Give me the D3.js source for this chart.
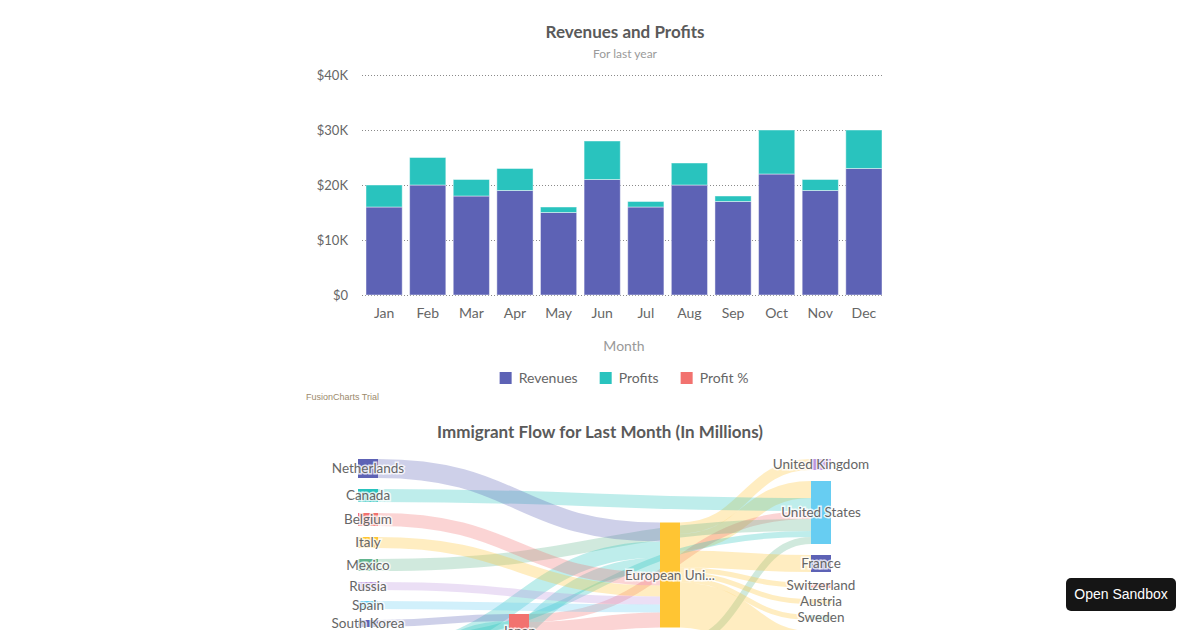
<!DOCTYPE html>
<html>
<head>
<meta charset="utf-8">
<script src="https://cdn.jsdelivr.net/npm/d3@7"></script>
<style>
  body { margin: 0; background: #fff; overflow: hidden; font-family: Lato, "Source Sans Pro", sans-serif; }
  #sandbox {
    position: absolute; left: 1066px; top: 578px; width: 110px; height: 33px;
    background: #151515; color: #fff; border-radius: 5px;
    font: 14px "Liberation Sans", Arial, sans-serif; line-height: 33px; text-align: center;
  }
</style>
</head>
<body>
<svg id="chart" width="1200" height="630"></svg>
<div id="sandbox">Open Sandbox</div>
<script>
// ---- column chart data
const months = ["Jan", "Feb", "Mar", "Apr", "May", "Jun", "Jul", "Aug", "Sep", "Oct", "Nov", "Dec"];
const revenues = [16000, 20000, 18000, 19000, 15000, 21000, 16000, 20000, 17000, 22000, 19000, 23000];
const profits = [4000, 5000, 3000, 4000, 1000, 7000, 1000, 4000, 1000, 8000, 2000, 7000];
const yTicks = [0, 10000, 20000, 30000, 40000];
const seriesNames = ["Revenues", "Profits", "Profit %"];

// ---- sankey data (millions)
const flowNodes = ["Netherlands", "Canada", "Belgium", "Italy", "Mexico", "Russia", "Spain",
  "South Korea", "China", "Japan", "European Union", "Asia", "United Kingdom", "United States",
  "France", "India", "Switzerland", "Austria", "Sweden", "Germany", "Australia"];
const flowLinks = [
  ["European Union", "United Kingdom", 2.2],
  ["European Union", "United States", 3.4],
  ["Canada", "United States", 2.6],
  ["Japan", "United States", 1.6],
  ["Mexico", "United States", 2.4],
  ["China", "United States", 1.2],
  ["Asia", "United States", 1.4],
  ["Netherlands", "European Union", 3.8],
  ["China", "European Union", 3.2],
  ["India", "European Union", 3.0],
  ["Belgium", "European Union", 2.6],
  ["Italy", "European Union", 2.2],
  ["Russia", "European Union", 1.6],
  ["Spain", "European Union", 1.6],
  ["Japan", "European Union", 3.0],
  ["South Korea", "Japan", 1.4],
  ["China", "Japan", 5.4],
  ["Japan", "Asia", 2.2],
  ["India", "Asia", 18.0],
  ["European Union", "France", 3.4],
  ["European Union", "Switzerland", 1.0],
  ["European Union", "Austria", 1.0],
  ["European Union", "Sweden", 1.0],
  ["European Union", "Germany", 9.0],
  ["Asia", "Australia", 18.8]
];

const palette = ["#5D62B5", "#29C3BE", "#F2726F", "#FFC533", "#62B58F", "#BC95DF", "#67CDF2"];
const font = "Lato, 'Source Sans Pro', sans-serif";
const svg = d3.select("#chart").attr("font-family", font);

// ===== Revenues and Profits =====
svg.append("text").attr("x", 625).attr("y", 38).attr("text-anchor", "middle")
  .attr("font-size", 17).attr("font-weight", 700).attr("fill", "#5a5a5a")
  .text("Revenues and Profits");
svg.append("text").attr("x", 625).attr("y", 58).attr("text-anchor", "middle")
  .attr("font-size", 12).attr("fill", "#9a9a9a").text("For last year");

const x = d3.scaleBand().domain(months).range([366, 882]).paddingInner(0.17).paddingOuter(0);
const y = d3.scaleLinear().domain([0, 40000]).range([295, 75]);

const yAxis = svg.append("g").attr("transform", "translate(362,0)")
  .call(d3.axisLeft(y).tickValues(yTicks).tickSize(-522).tickPadding(14)
    .tickFormat(d => d === 0 ? "$0" : "$" + d / 1000 + "K"));
yAxis.attr("font-family", font);
yAxis.select(".domain").remove();
yAxis.selectAll("line").attr("stroke", "#8a8a8a").attr("stroke-dasharray", "1,2");
yAxis.selectAll("text").attr("font-size", 13).attr("fill", "#666");

const xAxis = svg.append("g").attr("transform", "translate(0,295)")
  .call(d3.axisBottom(x).tickSize(0).tickPadding(13));
xAxis.attr("font-family", font);
xAxis.select(".domain").remove();
xAxis.selectAll("text").attr("font-size", 14).attr("fill", "#666");

const table = months.map((m, i) => ({ month: m, Revenues: revenues[i], Profits: profits[i] }));
const stacked = d3.stack().keys(["Revenues", "Profits"])(table);

svg.append("g").selectAll("g").data(stacked).join("g")
  .attr("fill", (d, i) => palette[i])
  .selectAll("rect").data(d => d).join("rect")
  .attr("x", d => x(d.data.month))
  .attr("y", d => y(d[1]))
  .attr("width", x.bandwidth())
  .attr("height", d => y(d[0]) - y(d[1]))
  .attr("stroke", "#ffffff").attr("stroke-opacity", 0.45).attr("stroke-width", 1);

svg.append("text").attr("x", 624).attr("y", 351).attr("text-anchor", "middle")
  .attr("font-size", 14).attr("fill", "#999").text("Month");

// legend
const legend = svg.append("g").attr("transform", "translate(0,378)");
let lx = 0;
const items = legend.selectAll("g").data(seriesNames).join("g");
items.append("rect").attr("width", 12).attr("height", 12).attr("y", -6)
  .attr("fill", (d, i) => palette[i]);
items.append("text").attr("x", 19).attr("y", 5).attr("font-size", 14).attr("fill", "#666").text(d => d);
items.each(function () {
  const w = this.getBBox().width;
  d3.select(this).attr("transform", `translate(${lx},0)`);
  lx += w + 22;
});
legend.attr("transform", `translate(${624 - (lx - 22) / 2},378)`);

svg.append("text").attr("x", 306).attr("y", 400).attr("font-size", 9)
  .attr("font-family", "'Liberation Sans', Arial, sans-serif").attr("fill", "#9c8a6c")
  .text("FusionCharts Trial");

// ===== Immigrant Flow sankey =====
svg.append("text").attr("x", 600).attr("y", 438).attr("text-anchor", "middle")
  .attr("font-size", 17).attr("font-weight", 700).attr("fill", "#5a5a5a")
  .text("Immigrant Flow for Last Month (In Millions)");

const sankeyTop = 459, sankeyH = 344, nodePad = 11, nodeW = 20;
const nodes = flowNodes.map((name, i) => ({ name, index: i, inLinks: [], outLinks: [] }));
const byName = new Map(nodes.map(n => [n.name, n]));
const links = flowLinks.map(([s, t, v]) => {
  const l = { source: byName.get(s), target: byName.get(t), value: v };
  l.source.outLinks.push(l);
  l.target.inLinks.push(l);
  return l;
});
nodes.forEach(n => n.value = Math.max(d3.sum(n.inLinks, l => l.value), d3.sum(n.outLinks, l => l.value)));

// depth from sources; sinks pushed to the last column
nodes.forEach(n => n.depth = 0);
for (let pass = 0; pass < nodes.length; pass++) {
  links.forEach(l => { l.target.depth = Math.max(l.target.depth, l.source.depth + 1); });
}
const maxDepth = d3.max(nodes, n => n.depth);
nodes.forEach(n => { if (!n.outLinks.length) n.depth = maxDepth; });
const columns = d3.range(maxDepth + 1).map(c => nodes.filter(n => n.depth === c));

const colX = d3.scalePoint().domain(d3.range(maxDepth + 1)).range([358, 811]);
const ky = d3.min(columns, col => (sankeyH - (col.length - 1) * nodePad) / d3.sum(col, n => n.value));
const h = d3.scaleLinear().domain([0, 1]).range([0, ky]);

columns.forEach((col, c) => {
  const total = d3.sum(col, n => h(n.value)) + (col.length - 1) * nodePad;
  let yy = (c === 0 || c === maxDepth) ? sankeyTop : sankeyTop + (sankeyH - total) / 2;
  col.forEach(n => {
    n.x0 = colX(c); n.x1 = n.x0 + nodeW;
    n.y0 = yy; n.y1 = yy + h(n.value);
    yy = n.y1 + nodePad;
  });
});
nodes.forEach(n => {
  let sy = n.y0, ty = n.y0;
  n.outLinks.forEach(l => { l.w = h(l.value); l.y0 = sy + l.w / 2; sy += l.w; });
  n.inLinks.forEach(l => { l.y1 = ty + h(l.value) / 2; ty += h(l.value); });
});

const linkPath = d3.linkHorizontal().source(l => [l.source.x1, l.y0]).target(l => [l.target.x0, l.y1]);
svg.append("g").attr("fill", "none").selectAll("path").data(links).join("path")
  .attr("d", linkPath)
  .attr("stroke", l => palette[l.source.index % palette.length])
  .attr("stroke-opacity", 0.3)
  .attr("stroke-width", l => l.w);

svg.append("g").selectAll("rect").data(nodes).join("rect")
  .attr("x", n => n.x0).attr("y", n => n.y0)
  .attr("width", nodeW).attr("height", n => n.y1 - n.y0)
  .attr("fill", n => palette[n.index % palette.length]);

svg.append("g").selectAll("text").data(nodes).join("text")
  .attr("x", n => (n.x0 + n.x1) / 2).attr("y", n => (n.y0 + n.y1) / 2)
  .attr("dy", "0.35em").attr("text-anchor", "middle")
  .attr("font-size", 13.5).attr("fill", "#666")
  .attr("stroke", "#fff").attr("stroke-width", 3).attr("stroke-opacity", 0.8)
  .attr("paint-order", "stroke")
  .text(n => (n.depth > 0 && n.depth < maxDepth && n.name.length > 13) ? n.name.slice(0, 12) + "..." : n.name);
</script>
</body>
</html>
